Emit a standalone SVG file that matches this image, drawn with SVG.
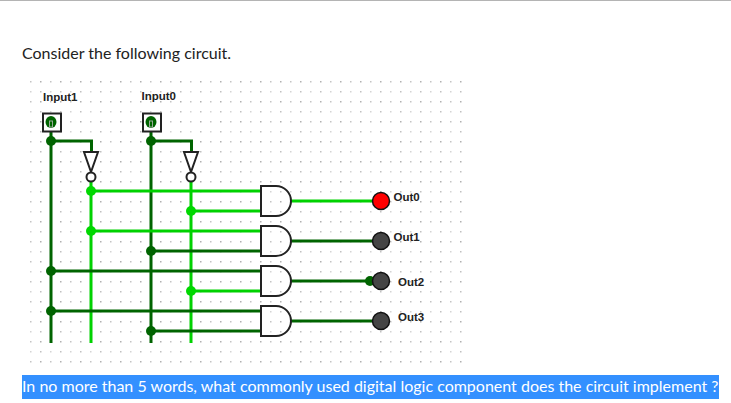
<svg xmlns="http://www.w3.org/2000/svg" width="731" height="403" viewBox="0 0 731 403">
<defs>
<pattern id="g" x="30" y="81" width="20" height="20" patternUnits="userSpaceOnUse">
<rect x="0" y="0" width="1.5" height="1.5" fill="#c4c4c4"/><rect x="10" y="0" width="1.5" height="1.5" fill="#b0b0b0"/><rect x="0" y="10" width="1.5" height="1.5" fill="#d4d4d4"/><rect x="10" y="10" width="1.5" height="1.5" fill="#c0c0c0"/>
</pattern>
</defs>
<style>
.w{fill:none;stroke-width:3}
.d{stroke:#006400}
.l{stroke:#00d200}
.jd{fill:#006400}
.jl{fill:#00d800}
.g{fill:#fff;fill-opacity:0;stroke:#222;stroke-width:2}
.n{font:bold 11.500px "Liberation Sans",Arial,sans-serif;fill:#222}
.q{font:16px Lato,"Noto Sans",sans-serif}
.led{stroke:#111;stroke-width:1.5}
</style>
<rect width="731" height="403" fill="#fff"/>
<rect x="0" y="0" width="731" height="1" fill="#b4b4b4"/>
<rect x="30" y="80" width="434" height="288" fill="url(#g)"/>
<text class="q" x="22" y="59" fill="#222">Consider the following circuit.</text>
<rect x="22" y="375" width="697" height="24" fill="#3390ff"/>
<text class="q" x="22" y="392" fill="#fff">In no more than 5 words, what commonly used digital logic component does the circuit implement ?</text>
<g id="connectors">
<path class="w d" d="M51 132V343M151 132V343M51 141H91.500V153M151 141H191.500V153"/>
<path class="w l" d="M91 182V343M191 182V343M91 191H262M191 211H262M91 231H262M191 291H262"/>
<path class="w d" d="M151 251H262M51 271H262M51 311H262M151 331H262"/>
<path class="w l" d="M290 201H375"/>
<path class="w d" d="M290 241H375M290 281H375M290 321H375"/>
<g class="jd"><circle cx="51" cy="141" r="5"/><circle cx="151" cy="141" r="5"/><circle cx="151" cy="251" r="5"/><circle cx="51" cy="271" r="5"/><circle cx="51" cy="311" r="5"/><circle cx="151" cy="331" r="5"/><circle cx="370" cy="281" r="5"/></g>
<g class="jl"><circle cx="91" cy="191" r="5"/><circle cx="191" cy="211" r="5"/><circle cx="91" cy="231" r="5"/><circle cx="191" cy="291" r="5"/></g>
</g>
<g id="input1"><rect x="43" y="113.500" width="18" height="18" fill="#fff" stroke="#222" stroke-width="2"/><ellipse cx="51" cy="122" rx="5.500" ry="6" fill="#006400"/><rect x="49.500" y="121" width="3" height="6" fill="none" stroke="#9a9" stroke-width="1"/><text class="n" x="43" y="100.500">Input1</text></g>
<g id="input0"><rect x="143" y="113.500" width="18" height="18" fill="#fff" stroke="#222" stroke-width="2"/><ellipse cx="151" cy="122" rx="5.500" ry="6" fill="#006400"/><rect x="149.500" y="121" width="3" height="6" fill="none" stroke="#9a9" stroke-width="1"/><text class="n" x="141.500" y="99.500">Input0</text></g>
<g id="not1"><path d="M84 152H98L91 172Z" fill="#fff" stroke="#222" stroke-width="2"/><circle cx="91" cy="177" r="4.500" fill="#fff" stroke="#222" stroke-width="2"/></g>
<g id="not0"><path d="M184 152H198L191 172Z" fill="#fff" stroke="#222" stroke-width="2"/><circle cx="191" cy="177" r="4.500" fill="#fff" stroke="#222" stroke-width="2"/></g>
<g id="and0"><path class="g" d="M261 186H276A15 15 0 0 1 276 216H261Z"/></g>
<g id="and1"><path class="g" d="M261 226H276A15 15 0 0 1 276 256H261Z"/></g>
<g id="and2"><path class="g" d="M261 266H276A15 15 0 0 1 276 296H261Z"/></g>
<g id="and3"><path class="g" d="M261 306H276A15 15 0 0 1 276 336H261Z"/></g>
<g id="out0"><circle class="led" cx="381" cy="201" r="8.500" fill="#f00"/><text class="n" x="393.500" y="201">Out0</text></g>
<g id="out1"><circle class="led" cx="381" cy="241" r="8.500" fill="#444"/><text class="n" x="393.500" y="241">Out1</text></g>
<g id="out2"><circle class="led" cx="381" cy="281" r="8.500" fill="#444"/><text class="n" x="398" y="286">Out2</text></g>
<g id="out3"><circle class="led" cx="381" cy="321" r="8.500" fill="#444"/><text class="n" x="398" y="321">Out3</text></g>
</svg>
